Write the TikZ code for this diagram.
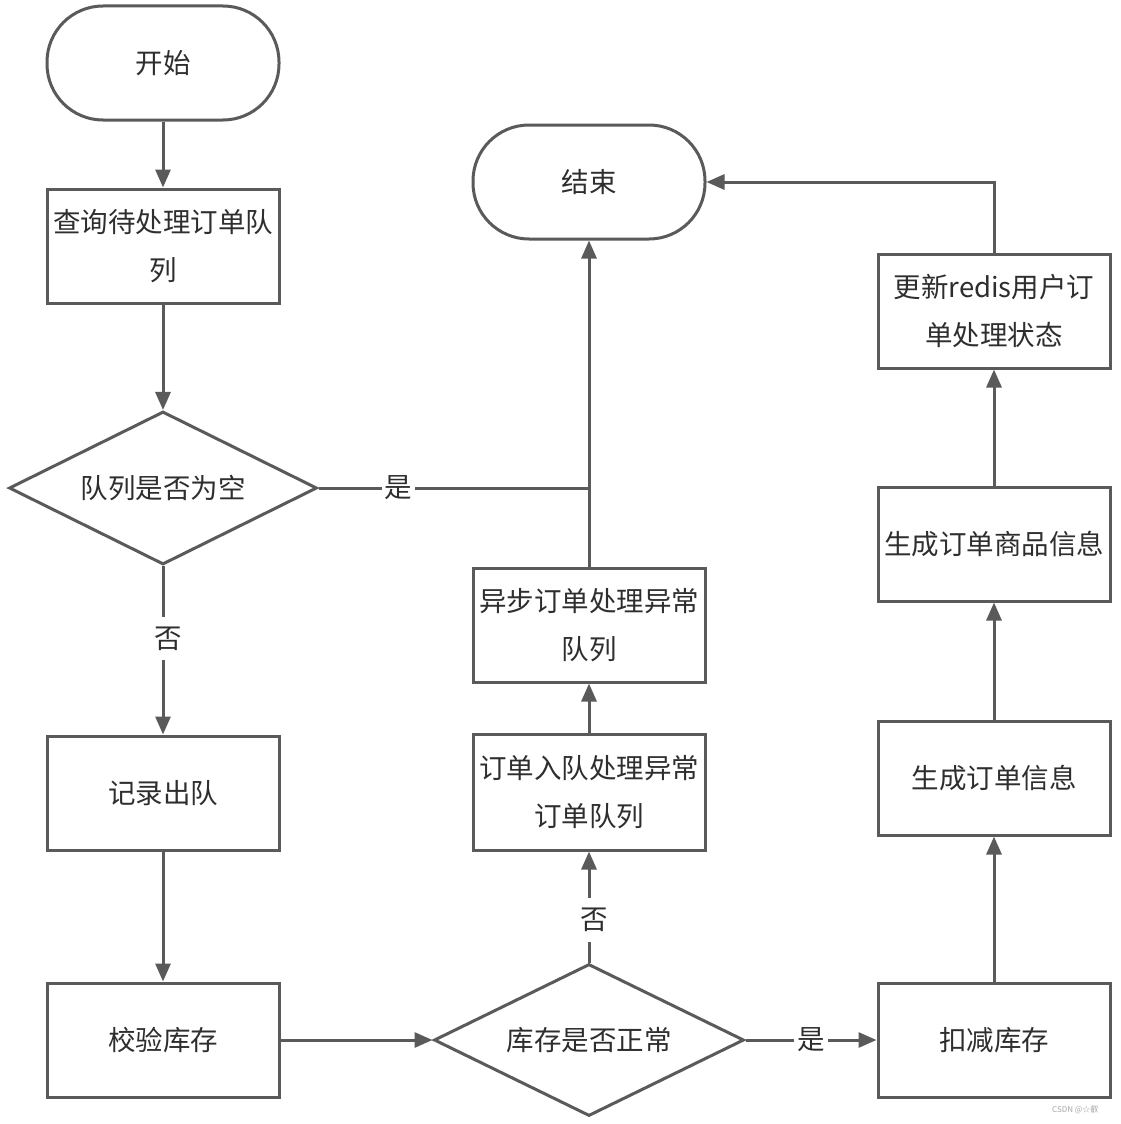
\documentclass[tikz,border=0pt]{standalone}
\usepackage{fontspec}
\setmainfont{Noto Sans CJK SC}
\usetikzlibrary{arrows.meta,shapes.geometric}
\definecolor{ln}{HTML}{5A5A5A}
\definecolor{tx}{HTML}{2E2E2E}
\begin{document}
\begin{tikzpicture}[x=1pt,y=-1pt,
  every node/.style={text=tx,font=\fontsize{27.5}{48}\selectfont},
  box/.style={draw=ln,line width=3pt,minimum width=232pt,minimum height=114pt,inner sep=0pt,align=center,text width=228pt},
  term/.style={box,rounded corners=56pt},
  dec/.style={diamond,shape aspect=2,draw=ln,line width=3pt,inner sep=0pt,align=center},
  conn/.style={draw=ln,line width=3pt},
  arr/.style={conn,-{Triangle[length=18pt,width=15pt]}},
  lbl/.style={fill=white,inner xsep=3pt,inner ysep=10pt}]
\fill[white] (0,0) rectangle (1121,1124);
\useasboundingbox (0,0) rectangle (1121,1124);
\node[term] (start) at (163,63) {开始};
\node[box] (query) at (163,246) {查询待处理订单队\\列};
\node[dec,minimum width=308pt,minimum height=153pt] (empty) at (163,488) {队列是否为空};
\node[box] (rec) at (163,793) {记录出队};
\node[box] (check) at (163,1040) {校验库存};
\node[dec,minimum width=310pt,minimum height=152pt] (stock) at (589,1040) {库存是否正常};
\node[box,minimum height=116pt] (enq) at (589,792) {订单入队处理异常\\订单队列};
\node[box] (async) at (589,625) {异步订单处理异常\\队列};
\node[term] (end) at (589,182) {结束};
\node[box] (deduct) at (994,1040) {扣减库存};
\node[box] (geninfo) at (994,778) {生成订单信息};
\node[box] (genitems) at (994,544) {生成订单商品信息};
\node[box] (redis) at (994,311) {更新redis用户订\\单处理状态};
\coordinate (junc) at (589,488);
\draw[arr] (start) -- (query);
\draw[arr] (query) -- (empty);
\draw[conn] (empty.east) -- node[lbl,pos=0.295,inner ysep=2pt] (yes1) {是} (junc);
\draw[arr] (async) -- (end);
\draw[arr] (empty.south) -- node[lbl,pos=0.43,xshift=5pt] (no1) {否} (rec);
\draw[arr] (rec) -- (check);
\draw[arr] (check.east) -- (stock.west);
\draw[arr] (stock.east) -- node[lbl,pos=0.5,inner ysep=2pt] (yes2) {是} (deduct.west);
\draw[arr] (stock.north) -- node[lbl,pos=0.385,xshift=5pt] (no2) {否} (enq.south);
\draw[arr] (enq) -- (async);
\draw[arr] (deduct) -- (geninfo);
\draw[arr] (geninfo) -- (genitems);
\draw[arr] (genitems) -- (redis);
\draw[arr] (redis.north) |- (end.east);
\node[text=gray!70,font=\fontsize{8}{10}\selectfont,anchor=east] (wm) at (1102,1110) {CSDN @☆叡};
\end{tikzpicture}
\end{document}
